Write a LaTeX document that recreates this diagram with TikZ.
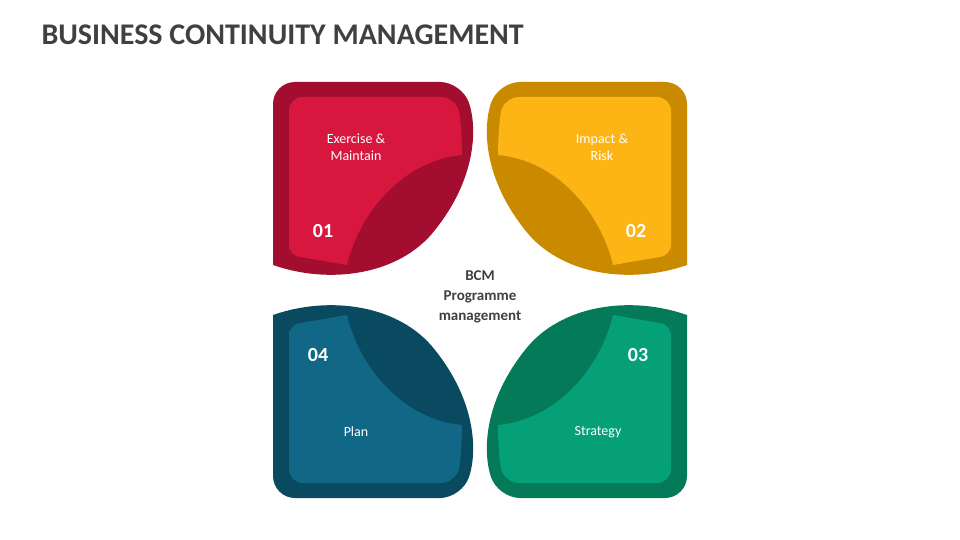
\documentclass[tikz,border=0pt]{standalone}
\usepackage{fontspec}
\setmainfont{Carlito}
\newcommand\myquad[2]{%
    \fill[#1] (-207,-185) [rounded corners=22] -- (-207,-208) -- (-18,-208) [sharp corners]
       .. controls (-2,-160) and (-5,-110) .. (-45,-60)
       .. controls (-80,-15) and (-150,-5) .. (-207,-25) -- cycle;
    \fill[#2, rounded corners=14] (-191,-35) -- (-191,-193) -- (-25,-193)
       [sharp corners] .. controls (-20,-175) and (-18,-155) .. (-18,-135)
       .. controls (-75,-130) and (-120,-80) .. (-133,-25)
       [rounded corners=10] -- (-191,-35) -- (-191,-60);}
\begin{document}
\begin{tikzpicture}[x=1pt,y=-1pt,
  lbl/.style={text=white,font=\fontsize{14}{17}\selectfont,align=center},
  num/.style={text=white,font=\bfseries\fontsize{20}{22}\selectfont}]
\useasboundingbox (0,0) rectangle (960,540);
\fill[white] (0,0) rectangle (960,540);
\definecolor{rO}{HTML}{A30E30}\definecolor{rI}{HTML}{D8173F}
\definecolor{yO}{HTML}{C98A00}\definecolor{yI}{HTML}{FCB514}
\definecolor{bO}{HTML}{0A4A61}\definecolor{bI}{HTML}{106886}
\definecolor{gO}{HTML}{047A58}\definecolor{gI}{HTML}{06A078}
\definecolor{tx}{HTML}{404040}
\node[anchor=west,text=tx,font=\bfseries\fontsize{30}{34}\selectfont] (title) at (38,35) {BUSINESS CONTINUITY MANAGEMENT};
\begin{scope}[shift={(480,290)}]\myquad{rO}{rI}\end{scope}
\begin{scope}[shift={(480,290)},xscale=-1]\myquad{yO}{yI}\end{scope}
\begin{scope}[shift={(480,290)},yscale=-1]\myquad{bO}{bI}\end{scope}
\begin{scope}[shift={(480,290)},xscale=-1,yscale=-1]\myquad{gO}{gI}\end{scope}
\node[lbl] (l1) at (356,147) {Exercise \&\\Maintain};
\node[num] (n1) at (323,231) {01};
\node[lbl] (l2) at (602,147) {Impact \&\\Risk};
\node[num] (n2) at (636,231) {02};
\node[num] (n4) at (318,355) {04};
\node[lbl] (l4) at (356,432) {Plan};
\node[num] (n3) at (638,355) {03};
\node[lbl] (l3) at (598,432) {Strategy};
\node[text=tx,font=\bfseries\fontsize{15}{20}\selectfont,align=center] (c) at (480,297) {BCM\\Programme\\management};
\end{tikzpicture}
\end{document}
